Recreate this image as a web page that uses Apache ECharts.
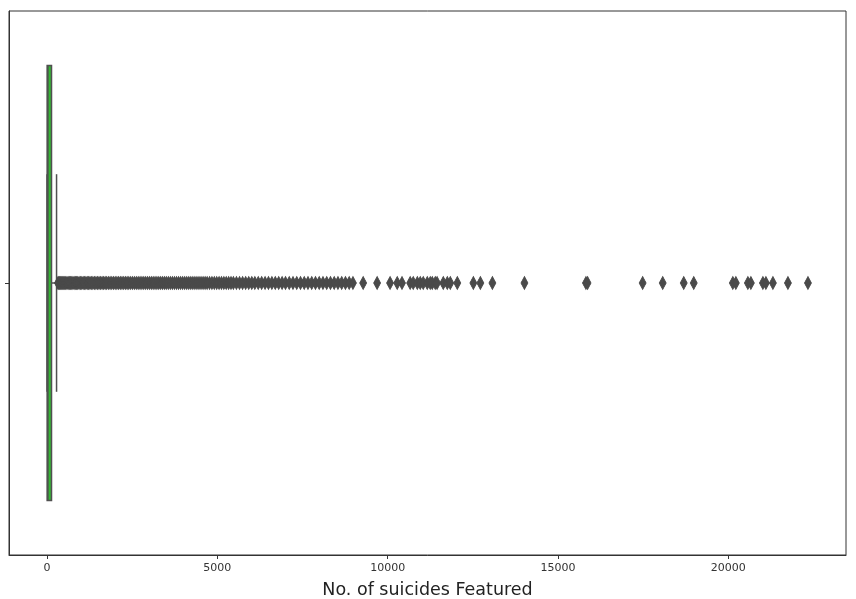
<!DOCTYPE html>
<html>
<head>
<meta charset="utf-8">
<script src="https://cdn.jsdelivr.net/npm/echarts@6/dist/echarts.min.js"></script>
<style>html,body{margin:0;padding:0;background:#fff}#c{width:856px;height:599px}</style>
</head>
<body>
<div id="c"></div>
<script>
var categories = [''];
// [min whisker, Q1, median, Q3, max whisker]
var boxStats = [0, 3, 25, 131, 279];
var outliers = [
  320, 345, 370, 400, 430, 460, 490, 520, 550, 585, 620, 655, 690, 725, 760, 795, 830, 865, 900, 940,
  980, 1020, 1060, 1100, 1140, 1180, 1220, 1260, 1300, 1345, 1390, 1435, 1480, 1525, 1570, 1615, 1660, 1705,
  1750, 1800, 1850, 1900, 1950, 2000, 2050, 2100, 2150, 2200, 2250, 2300, 2350, 2400, 2455, 2510, 2565, 2620,
  2675, 2730, 2785, 2840, 2895, 2950, 3005, 3060, 3115, 3170, 3225, 3280, 3335, 3390, 3445, 3500, 3560, 3620,
  3680, 3740, 3800, 3860, 3920, 3980, 4040, 4100, 4160, 4220, 4280, 4340, 4400, 4460, 4520, 4580, 4640, 4700,
  4770, 4840, 4910, 4980, 5050, 5120, 5190, 5260, 5330, 5400, 5470,
  5560, 5650, 5740, 5830, 5920, 6010, 6100, 6200, 6300, 6400, 6500, 6600, 6700, 6800, 6900, 7000, 7110, 7220,
  7330, 7440, 7550, 7660, 7770, 7880, 7990, 8100, 8210, 8320, 8430, 8540, 8650, 8760, 8870, 8980,
  9280, 9690, 10070, 10280, 10420, 10660, 10750, 10870, 10956, 11044, 11162, 11250, 11309, 11397, 11450,
  11632, 11750, 11838, 12044, 12515, 12721, 13074, 14015, 15820, 15868, 17485, 18074, 18691, 18985,
  20132, 20221, 20574, 20662, 21015, 21103, 21309, 21750, 22338
];
var xTicks = [0, 5000, 10000, 15000, 20000];
var xMin = -1117, xMax = 23455;
var xTitle = 'No. of suicides Featured';

var chart = echarts.init(document.getElementById('c'));
var gray = '#505050';
chart.setOption({
  animation: false,
  grid: {left: 9, right: 10, top: 11, bottom: 44, show: true, borderColor: '#333', borderWidth: 1,
         containLabel: false, outerBoundsMode: 'none'},
  xAxis: {
    type: 'value', min: xMin, max: xMax,
    name: xTitle, nameLocation: 'middle', nameGap: 26,
    nameTextStyle: {fontFamily: 'DejaVu Sans', fontSize: 17.5, color: '#222'},
    axisLine: {show: true, onZero: false, lineStyle: {color: '#333'}},
    axisTick: {show: true, customValues: xTicks, length: 4, lineStyle: {color: '#333'}},
    axisLabel: {customValues: xTicks, fontFamily: 'DejaVu Sans', fontSize: 11, color: '#333', margin: 8,
                formatter: function (v) { return String(v); }},
    splitLine: {show: false}
  },
  yAxis: {
    type: 'category', data: categories,
    axisLine: {show: true, onZero: false, lineStyle: {color: '#333'}},
    axisTick: {show: true, alignWithLabel: true, length: 4, lineStyle: {color: '#333'}},
    axisLabel: {show: false},
    splitLine: {show: false}
  },
  series: [
    {
      type: 'custom',
      data: [[0].concat(boxStats)],
      encode: {x: [1, 2, 3, 4, 5], y: 0},
      renderItem: function (params, api) {
        var cat = api.value(0);
        var vMin = api.value(1), q1 = api.value(2), med = api.value(3), q3 = api.value(4), vMax = api.value(5);
        var yc = api.coord([0, cat])[1];
        var band = api.size([0, 1])[1];
        var h = band * 0.8;
        var c = h * 0.25;
        var xMinP = api.coord([vMin, cat])[0];
        var xQ1 = api.coord([q1, cat])[0];
        var xMed = api.coord([med, cat])[0];
        var xQ3 = api.coord([q3, cat])[0];
        var xMaxP = api.coord([vMax, cat])[0];
        var ls = {stroke: gray, lineWidth: 1.5};
        return {
          type: 'group',
          children: [
            {type: 'line', shape: {x1: xMinP, y1: yc, x2: xQ1, y2: yc}, style: ls},
            {type: 'line', shape: {x1: xQ3, y1: yc, x2: xMaxP, y2: yc}, style: ls},
            {type: 'line', shape: {x1: xMinP, y1: yc - c, x2: xMinP, y2: yc + c}, style: ls},
            {type: 'line', shape: {x1: xMaxP, y1: yc - c, x2: xMaxP, y2: yc + c}, style: ls},
            {type: 'rect', shape: {x: xQ1, y: yc - h / 2, width: xQ3 - xQ1, height: h}, style: {fill: '#35b535', stroke: gray, lineWidth: 1.5}},
            {type: 'line', shape: {x1: xMed, y1: yc - h / 2, x2: xMed, y2: yc + h / 2}, style: ls}
          ]
        };
      }
    },
    {
      type: 'scatter',
      symbol: 'diamond',
      symbolSize: [7, 13],
      itemStyle: {color: '#4a4a4a', opacity: 1, borderColor: '#4a4a4a', borderWidth: 0.8},
      data: outliers.map(function (v) { return [v, 0]; })
    }
  ]
});
</script>
</body>
</html>
